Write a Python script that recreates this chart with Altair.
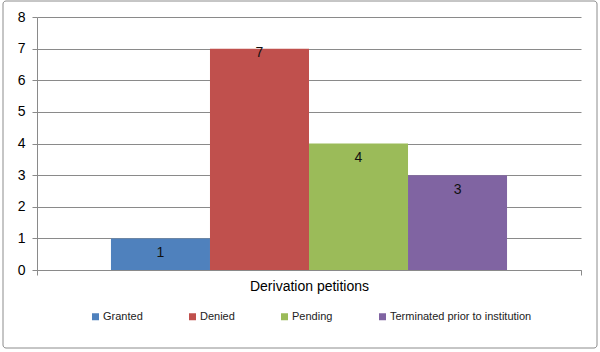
import altair as alt
import pandas as pd

categories = ["Granted", "Denied", "Pending", "Terminated prior to institution"]
values = [1, 7, 4, 3]
group_label = "Derivation petitions"
colors = ["#4F81BD", "#C0504D", "#9BBB59", "#8064A2"]
y_ticks = [0, 1, 2, 3, 4, 5, 6, 7, 8]

df = pd.DataFrame({"group": [group_label] * len(categories), "status": categories, "count": values})
max_val = max(values)

FONT = "Liberation Sans"
GRID = "#8a8a8a"

x = alt.X(
    "group:N",
    title=None,
    scale=alt.Scale(paddingInner=0, paddingOuter=0),
    axis=alt.Axis(
        labelAngle=0, labelFontSize=14, labelColor="black", labelFont=FONT,
        tickBand="extent", tickSize=5, tickColor=GRID, domainColor=GRID,
        labelPadding=4, grid=False,
    ),
)
xo = alt.XOffset("status:N", sort=categories,
                 scale=alt.Scale(paddingOuter=0.747, paddingInner=0))
y = alt.Y(
    "count:Q",
    scale=alt.Scale(domain=[0, 8]),
    axis=alt.Axis(
        values=y_ticks, title=None, labelFontSize=14, labelColor="black", labelFont=FONT,
        tickSize=5, tickColor=GRID, domainColor=GRID, gridColor=GRID, labelPadding=7,
    ),
)

bars = alt.Chart(df).mark_bar().encode(
    x=x, xOffset=xo, y=y,
    color=alt.Color(
        "status:N", sort=categories,
        scale=alt.Scale(domain=categories, range=colors),
        legend=alt.Legend(
            title=None, orient="none", legendX=53, legendY=294, direction="horizontal",
            symbolType="square", symbolSize=49, symbolStrokeWidth=0,
            labelFontSize=11, labelFont=FONT, labelColor="#222222",
            columnPadding=44, labelOffset=2, padding=0, labelLimit=300,
        ),
    ),
)

labels = alt.Chart(df).transform_filter(alt.datum["count"] < max_val).mark_text(
    dy=14.5, baseline="middle", fontSize=14, font=FONT, color="#111111"
).encode(x=x, xOffset=xo, y=y, text="count:Q")

top_label = alt.Chart(df).transform_filter(alt.datum["count"] == max_val).mark_text(
    dy=4.5, baseline="middle", fontSize=14, font=FONT, color="#111111"
).encode(x=x, xOffset=xo, y=y, text="count:Q")

border = alt.Chart(alt.Data(values=[{}])).mark_rect(
    fill=None, stroke="#8c8c8c", strokeWidth=1, cornerRadius=3
).encode(x=alt.value(-34), x2=alt.value(560), y=alt.value(-16), y2=alt.value(331))

chart = alt.layer(bars, labels, top_label, border).properties(
    width=544, height=253,
    padding={"left": 37, "top": 17, "right": 19, "bottom": 82},
    autosize=alt.AutoSizeParams(type="none"),
    background="white",
).configure_view(stroke=None)

chart.save("out.html", embed_options={"renderer": "svg", "actions": False})
